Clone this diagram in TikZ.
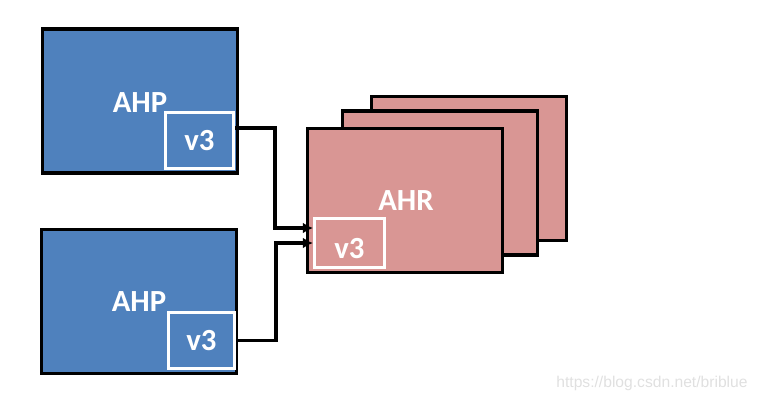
\documentclass[tikz,border=0pt]{standalone}
\usepackage{fontspec}
\setmainfont{Carlito}
\newfontfamily\wmfont{Liberation Sans}
\usepackage{tikz}
\usetikzlibrary{positioning}
\usetikzlibrary{arrows.meta}
\definecolor{ahpblue}{HTML}{4F81BD}
\definecolor{ahrred}{HTML}{D99694}

\begin{document}
\begin{tikzpicture}
	[x=0.02cm, y=-0.02cm,
	 box/.style = {draw=black, line width=2pt, inner sep=0pt, minimum width=3.9cm, minimum height=2.88cm},
	 ahp/.style = {box, fill=ahpblue},
	 ahr/.style = {box, fill=ahrred},
	 ver/.style = {draw=white, line width=1.9pt, inner sep=0pt, text=white, font=\bfseries\fontsize{17.5}{20}\selectfont},
	 lbl/.style = {text=white, font=\bfseries\fontsize{17.5}{20}\selectfont},
	 arr/.style = {line width=1.9pt, -{Latex[length=2mm,width=2.2mm]}}]
	\useasboundingbox (0,0) rectangle (758,403);
	\node[ahp] (p1) at (140,101) {};
	\node[ahp] (p2) at (139,301.5) {};
	\node[ahr] (r3) at (469,168.5) {};
	\node[ahr] (r2) at (440,183) {};
	\node[ahr] (r1) at (405,200.5) {};
	\node[lbl] (t1) at (140,103) {AHP};
	\node[lbl] (t2) at (139,302) {AHP};
	\node[lbl] (t3) at (406,201) {AHR};
	\node[ver, minimum width=1.35cm, minimum height=1.12cm] (v1) at (199.5,140.5) {v3};
	\node[ver, minimum width=1.33cm, minimum height=1.12cm] (v2) at (201.5,340.5) {v3};
	\node[ver, minimum width=1.40cm, minimum height=0.98cm, text height=0.6cm, text depth=0cm] (vr) at (349.5,243) {v3};
	\draw[arr] (v1.east) ++(0,-12.5) -- ++(40,0) |- ([yshift=0.3cm]vr.west);
	\draw[arr] (v2.east) -- ++(39.5,0) |- (vr.west);
	\node[text=black!12, font=\wmfont\fontsize{8.9}{10}\selectfont] (wm) at (652,383) {https://blog.csdn.net/briblue};
\end{tikzpicture}
\end{document}
